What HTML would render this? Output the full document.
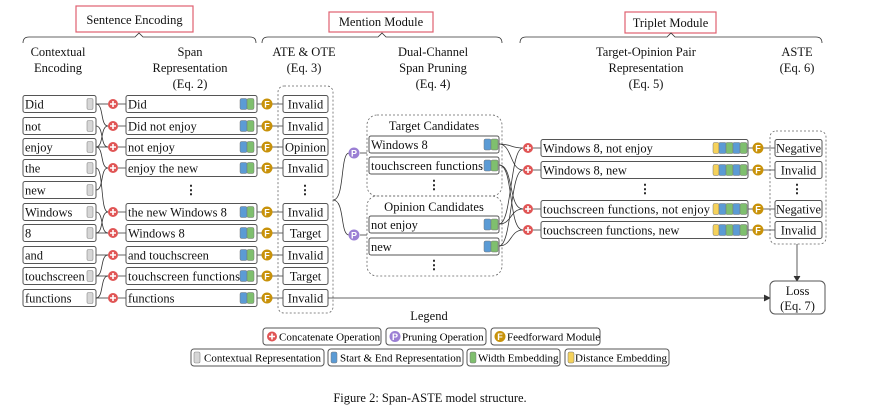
<!DOCTYPE html>
<html><head><meta charset="utf-8"><style>
body{margin:0;background:#fff}
svg{display:block;font-family:"Liberation Serif",serif}
.b{fill:#fff;stroke:#555;stroke-width:1}
.t{font-size:12.5px;fill:#111}
.h{font-size:12.5px;fill:#111;text-anchor:middle}
.c{fill:none;stroke:#333;stroke-width:.8}
.d{fill:none;stroke:#666;stroke-width:.8;stroke-dasharray:2,2}
</style></head><body>
<svg width="873" height="417" viewBox="0 0 873 417" xmlns="http://www.w3.org/2000/svg">
<defs>
<g id="pl"><circle r="5" fill="#e05555"/><path d="M-3,0H3M0,-3V3" stroke="#fff" stroke-width="1.6"/></g>
<g id="ff"><circle r="5.5" fill="#c8920a"/><text x="0" y="3.5" text-anchor="middle" font-size="9" font-family="Liberation Sans,sans-serif" fill="#fff" font-weight="bold">F</text></g>
<g id="pp"><circle r="5.5" fill="#9b7fd4"/><text x="0" y="3.5" text-anchor="middle" font-size="9" font-family="Liberation Sans,sans-serif" fill="#fff" font-weight="bold">P</text></g>
<g id="gc"><rect x="0" y="-5.5" width="6" height="11" rx="1.5" fill="#d6d6d6" stroke="#888" stroke-width=".6"/></g>
<g id="bg"><rect x="0" y="-5.5" width="7" height="11" rx="1.5" fill="#5b9bd5" stroke="#777" stroke-width=".5"/><rect x="7" y="-5.5" width="7" height="11" rx="1.5" fill="#7fbf6e" stroke="#777" stroke-width=".5"/></g>
<g id="p5"><rect x="0" y="-5.5" width="6" height="11" rx="1.5" fill="#f5d25c" stroke="#777" stroke-width=".5"/><rect x="6" y="-5.5" width="7" height="11" rx="1" fill="#5b9bd5" stroke="#777" stroke-width=".5"/><rect x="13" y="-5.5" width="7" height="11" rx="1" fill="#7fbf6e" stroke="#777" stroke-width=".5"/><rect x="20" y="-5.5" width="7" height="11" rx="1" fill="#5b9bd5" stroke="#777" stroke-width=".5"/><rect x="27" y="-5.5" width="7" height="11" rx="1.5" fill="#7fbf6e" stroke="#777" stroke-width=".5"/></g>
</defs>

<rect x="76" y="6" width="117" height="26" fill="#fff" stroke="#e06070" stroke-width="1.2"/>
<text class="h" x="134.5" y="24">Sentence Encoding</text>
<path class="c" d="M23,43 Q23,37 29,37 H135 L139,33 L143,37 H250 Q256,37 256,43"/>
<rect x="329" y="12" width="104" height="20" fill="#fff" stroke="#e06070" stroke-width="1.2"/>
<text class="h" x="381" y="26">Mention Module</text>
<path class="c" d="M262,43 Q262,37 268,37 H378 L382,33 L386,37 H496 Q502,37 502,43"/>
<rect x="625" y="12" width="91" height="21" fill="#fff" stroke="#e06070" stroke-width="1.2"/>
<text class="h" x="670.5" y="27">Triplet Module</text>
<path class="c" d="M520,43 Q520,37 526,37 H667 L671,33 L675,37 H816 Q822,37 822,43"/>

<text class="h" x="58" y="56">Contextual</text><text class="h" x="58" y="72">Encoding</text>
<text class="h" x="190" y="56">Span</text><text class="h" x="190" y="72">Representation</text><text class="h" x="190" y="88">(Eq. 2)</text>
<text class="h" x="304" y="56">ATE &amp; OTE</text><text class="h" x="304" y="72">(Eq. 3)</text>
<text class="h" x="433" y="56">Dual-Channel</text><text class="h" x="433" y="72">Span Pruning</text><text class="h" x="433" y="88">(Eq. 4)</text>
<text class="h" x="646" y="56">Target-Opinion Pair</text><text class="h" x="646" y="72">Representation</text><text class="h" x="646" y="88">(Eq. 5)</text>
<text class="h" x="797" y="56">ASTE</text><text class="h" x="797" y="72">(Eq. 6)</text>

<g>
<rect class="b" x="23" y="95.5" width="73" height="17" rx="2"/><text class="t" x="25" y="108.5">Did</text><use href="#gc" x="87" y="104"/>
<rect class="b" x="23" y="117.5" width="73" height="17" rx="2"/><text class="t" x="25" y="130.5">not</text><use href="#gc" x="87" y="126"/>
<rect class="b" x="23" y="138.5" width="73" height="17" rx="2"/><text class="t" x="25" y="151.5">enjoy</text><use href="#gc" x="87" y="147"/>
<rect class="b" x="23" y="159.5" width="73" height="17" rx="2"/><text class="t" x="25" y="172.5">the</text><use href="#gc" x="87" y="168"/>
<rect class="b" x="23" y="181.5" width="73" height="17" rx="2"/><text class="t" x="25" y="194.5">new</text><use href="#gc" x="87" y="190"/>
<rect class="b" x="23" y="203.5" width="73" height="17" rx="2"/><text class="t" x="25" y="216.5">Windows</text><use href="#gc" x="87" y="212"/>
<rect class="b" x="23" y="224.5" width="73" height="17" rx="2"/><text class="t" x="25" y="237.5">8</text><use href="#gc" x="87" y="233"/>
<rect class="b" x="23" y="246.5" width="73" height="17" rx="2"/><text class="t" x="25" y="259.5">and</text><use href="#gc" x="87" y="255"/>
<rect class="b" x="23" y="267.5" width="73" height="17" rx="2"/><text class="t" x="25" y="280.5">touchscreen</text><use href="#gc" x="87" y="276"/>
<rect class="b" x="23" y="289.5" width="73" height="17" rx="2"/><text class="t" x="25" y="302.5">functions</text><use href="#gc" x="87" y="298"/>
</g>
<g class="c">
<path d="M96,104 H108"/><path d="M96,104 C104,104 100,126 108,126"/>
<path d="M96,147 C104,147 100,126 108,126"/>
<path d="M96,126 C104,126 100,147 108,147"/><path d="M96,147 H108"/>
<path d="M96,147 C104,147 100,168 108,168"/><path d="M96,190 C104,190 100,168 108,168"/>
<path d="M96,168 C104,168 100,212 108,212"/><path d="M96,233 C104,233 100,212 108,212"/>
<path d="M96,212 C104,212 100,233 108,233"/><path d="M96,233 H108"/>
<path d="M96,255 H108"/><path d="M96,276 C104,276 100,255 108,255"/>
<path d="M96,276 H108"/><path d="M96,298 C104,298 100,276 108,276"/>
<path d="M96,298 H108"/>
</g>
<g>
<use href="#pl" x="113" y="104"/><use href="#pl" x="113" y="126"/><use href="#pl" x="113" y="147"/><use href="#pl" x="113" y="168"/>
<use href="#pl" x="113" y="212"/><use href="#pl" x="113" y="233"/><use href="#pl" x="113" y="255"/><use href="#pl" x="113" y="276"/><use href="#pl" x="113" y="298"/>
<g class="c"><path d="M118,104H126M118,126H126M118,147H126M118,168H126M118,212H126M118,233H126M118,255H126M118,276H126M118,298H126"/>
<path d="M257,104H283M257,126H283M257,147H283M257,168H283M257,212H283M257,233H283M257,255H283M257,276H283M257,298H283"/></g>
<rect class="b" x="126" y="95.5" width="131" height="17" rx="2"/><text class="t" x="128" y="108.5">Did</text><use href="#bg" x="240" y="104"/>
<rect class="b" x="126" y="117.5" width="131" height="17" rx="2"/><text class="t" x="128" y="130.5">Did not enjoy</text><use href="#bg" x="240" y="126"/>
<rect class="b" x="126" y="138.5" width="131" height="17" rx="2"/><text class="t" x="128" y="151.5">not enjoy</text><use href="#bg" x="240" y="147"/>
<rect class="b" x="126" y="159.5" width="131" height="17" rx="2"/><text class="t" x="128" y="172.5">enjoy the new</text><use href="#bg" x="240" y="168"/>
<text class="h" x="191" y="194" font-weight="bold">⋮</text>
<rect class="b" x="126" y="203.5" width="131" height="17" rx="2"/><text class="t" x="128" y="216.5">the new Windows 8</text><use href="#bg" x="240" y="212"/>
<rect class="b" x="126" y="224.5" width="131" height="17" rx="2"/><text class="t" x="128" y="237.5">Windows 8</text><use href="#bg" x="240" y="233"/>
<rect class="b" x="126" y="246.5" width="131" height="17" rx="2"/><text class="t" x="128" y="259.5">and touchscreen</text><use href="#bg" x="240" y="255"/>
<rect class="b" x="126" y="267.5" width="131" height="17" rx="2"/><text class="t" x="128" y="280.5" textLength="112">touchscreen functions</text><use href="#bg" x="240" y="276"/>
<rect class="b" x="126" y="289.5" width="131" height="17" rx="2"/><text class="t" x="128" y="302.5">functions</text><use href="#bg" x="240" y="298"/>
</g>
<rect class="d" x="278" y="86" width="55" height="227" rx="6"/>
<g>
<use href="#ff" x="267" y="104"/><use href="#ff" x="267" y="126"/><use href="#ff" x="267" y="147"/><use href="#ff" x="267" y="168"/>
<use href="#ff" x="267" y="212"/><use href="#ff" x="267" y="233"/><use href="#ff" x="267" y="255"/><use href="#ff" x="267" y="276"/><use href="#ff" x="267" y="298"/>
<rect class="b" x="283" y="95.5" width="45" height="17" rx="2"/><text class="h" x="305.5" y="108.5">Invalid</text>
<rect class="b" x="283" y="117.5" width="45" height="17" rx="2"/><text class="h" x="305.5" y="130.5">Invalid</text>
<rect class="b" x="283" y="138.5" width="45" height="17" rx="2"/><text class="h" x="305.5" y="151.5">Opinion</text>
<rect class="b" x="283" y="159.5" width="45" height="17" rx="2"/><text class="h" x="305.5" y="172.5">Invalid</text>
<text class="h" x="305" y="194" font-weight="bold">⋮</text>
<rect class="b" x="283" y="203.5" width="45" height="17" rx="2"/><text class="h" x="305.5" y="216.5">Invalid</text>
<rect class="b" x="283" y="224.5" width="45" height="17" rx="2"/><text class="h" x="305.5" y="237.5">Target</text>
<rect class="b" x="283" y="246.5" width="45" height="17" rx="2"/><text class="h" x="305.5" y="259.5">Invalid</text>
<rect class="b" x="283" y="267.5" width="45" height="17" rx="2"/><text class="h" x="305.5" y="280.5">Target</text>
<rect class="b" x="283" y="289.5" width="45" height="17" rx="2"/><text class="h" x="305.5" y="302.5">Invalid</text>
</g>
<g class="c">
<path d="M333,200 C345,200 340,153 349,153"/><path d="M333,200 C345,200 340,235 349,235"/>
<path d="M360,153H367M360,235H367"/>
<path d="M328,298 H766"/>
</g>
<use href="#pp" x="354" y="153"/><use href="#pp" x="354" y="235"/>
<rect class="d" x="367" y="115" width="135" height="81" rx="10"/>
<rect class="d" x="367" y="196" width="135" height="80" rx="10"/>
<text class="h" x="434" y="130">Target Candidates</text>
<rect class="b" x="369" y="136" width="130" height="17" rx="2"/><text class="t" x="371" y="149">Windows 8</text><use href="#bg" x="484" y="144.5"/>
<rect class="b" x="369" y="157" width="130" height="17" rx="2"/><text class="t" x="371" y="170" textLength="112">touchscreen functions</text><use href="#bg" x="484" y="165.5"/>
<text class="h" x="434" y="189" font-weight="bold">⋮</text>
<text class="h" x="434" y="211">Opinion Candidates</text>
<rect class="b" x="369" y="216" width="130" height="17" rx="2"/><text class="t" x="371" y="229">not enjoy</text><use href="#bg" x="484" y="224.5"/>
<rect class="b" x="369" y="238" width="130" height="17" rx="2"/><text class="t" x="371" y="251">new</text><use href="#bg" x="484" y="246.5"/>
<text class="h" x="434" y="269" font-weight="bold">⋮</text>
<g class="c">
<path d="M499,144 C512,144 510,148 523,148"/><path d="M499,144 C512,144 510,170 523,170"/>
<path d="M499,165 C514,165 508,209 523,209"/><path d="M499,165 C514,165 508,230 523,230"/>
<path d="M499,224 C512,224 510,148 523,148"/><path d="M499,224 C512,224 510,209 523,209"/>
<path d="M499,246 C512,246 510,170 523,170"/><path d="M499,246 C512,246 510,230 523,230"/>
<path d="M533,148H541M533,170H541M533,209H541M533,230H541"/>
<path d="M748,148H775M748,170H775M748,209H775M748,230H775"/>
<path d="M797,244V279"/><path d="M794,276 L797,281 L800,276" fill="#333"/>
<path d="M764,295 L770,298 L764,301" fill="#333"/>
</g>
<use href="#pl" x="528" y="148"/><use href="#pl" x="528" y="170"/><use href="#pl" x="528" y="209"/><use href="#pl" x="528" y="230"/>
<rect class="b" x="541" y="139.5" width="207" height="17" rx="2"/><text class="t" x="543" y="152.5">Windows 8, not enjoy</text><use href="#p5" x="713" y="148"/>
<rect class="b" x="541" y="161.5" width="207" height="17" rx="2"/><text class="t" x="543" y="174.5">Windows 8, new</text><use href="#p5" x="713" y="170"/>
<text class="h" x="645" y="193" font-weight="bold">⋮</text>
<rect class="b" x="541" y="200.5" width="207" height="17" rx="2"/><text class="t" x="543" y="213.5" textLength="167">touchscreen functions, not enjoy</text><use href="#p5" x="713" y="209"/>
<rect class="b" x="541" y="221.5" width="207" height="17" rx="2"/><text class="t" x="543" y="234.5">touchscreen functions, new</text><use href="#p5" x="713" y="230"/>
<use href="#ff" x="758" y="148"/><use href="#ff" x="758" y="170"/><use href="#ff" x="758" y="209"/><use href="#ff" x="758" y="230"/>
<rect class="d" x="770" y="131" width="56" height="113" rx="6"/>
<rect class="b" x="775" y="139.5" width="47" height="17" rx="2"/><text class="h" x="798.5" y="152.5">Negative</text>
<rect class="b" x="775" y="161.5" width="47" height="17" rx="2"/><text class="h" x="798.5" y="174.5">Invalid</text>
<text class="h" x="797" y="193" font-weight="bold">⋮</text>
<rect class="b" x="775" y="200.5" width="47" height="17" rx="2"/><text class="h" x="798.5" y="213.5">Negative</text>
<rect class="b" x="775" y="221.5" width="47" height="17" rx="2"/><text class="h" x="798.5" y="234.5">Invalid</text>
<rect class="b" x="770" y="281" width="55" height="33" rx="5"/>
<text class="h" x="797.5" y="295">Loss</text><text class="h" x="797.5" y="310">(Eq. 7)</text>

<text class="h" x="429" y="320" font-size="12">Legend</text>
<g font-size="11">
<rect class="b" x="263" y="328" width="118" height="17" rx="3"/><use href="#pl" x="272" y="336.5"/><text x="279" y="340.5" font-size="11">Concatenate Operation</text>
<rect class="b" x="386" y="328" width="100" height="17" rx="3"/><use href="#pp" x="395" y="336.5"/><text x="402" y="340.5" font-size="11">Pruning Operation</text>
<rect class="b" x="491" y="328" width="109" height="17" rx="3"/><use href="#ff" x="500" y="336.5"/><text x="507" y="340.5" font-size="11">Feedforward Module</text>
<rect class="b" x="191" y="349" width="133" height="17" rx="3"/><use href="#gc" x="194" y="357.5"/><text x="204" y="361.5" font-size="11">Contextual Representation</text>
<rect class="b" x="328" y="349" width="135" height="17" rx="3"/><rect x="331" y="352" width="6" height="11" rx="1.5" fill="#5b9bd5" stroke="#777" stroke-width=".5"/><text x="340" y="361.5" font-size="11">Start &amp; End Representation</text>
<rect class="b" x="467" y="349" width="93" height="17" rx="3"/><rect x="470" y="352" width="6" height="11" rx="1.5" fill="#7fbf6e" stroke="#777" stroke-width=".5"/><text x="478" y="361.5" font-size="11">Width Embedding</text>
<rect class="b" x="565" y="349" width="104" height="17" rx="3"/><rect x="568" y="352" width="6" height="11" rx="1.5" fill="#f5d25c" stroke="#777" stroke-width=".5"/><text x="575" y="361.5" font-size="11">Distance Embedding</text>
</g>
<text class="h" x="430" y="402" font-size="18">Figure 2: Span-ASTE model structure.</text>
</svg>
</body></html>
